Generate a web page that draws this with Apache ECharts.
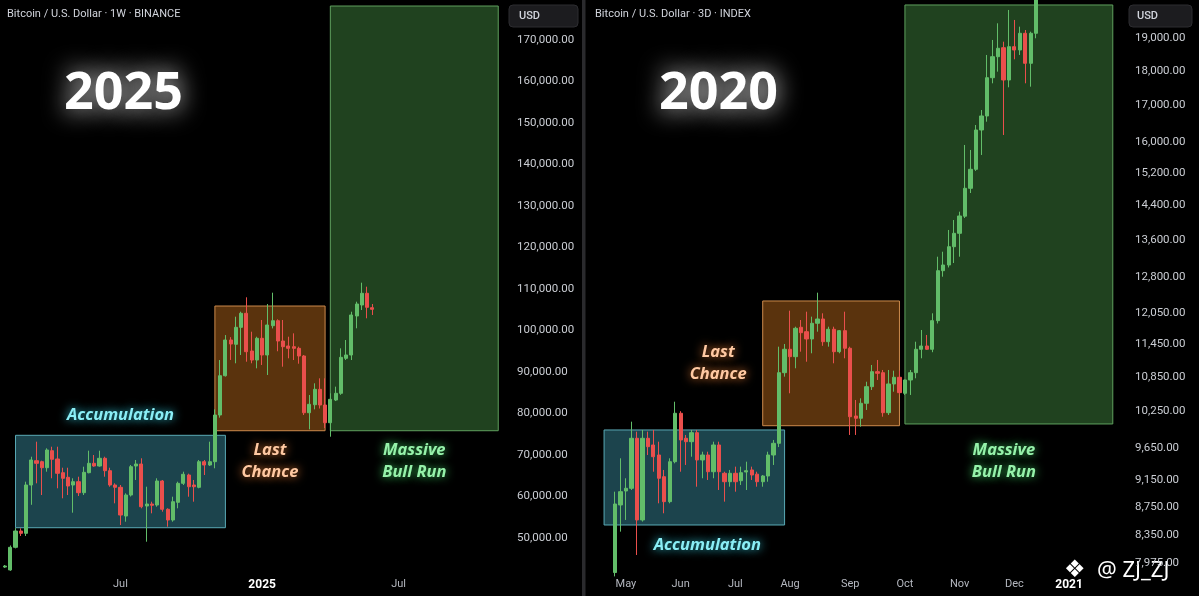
<!DOCTYPE html>
<html>
<head>
<meta charset="utf-8">
<script src="https://cdn.jsdelivr.net/npm/echarts@6.0.0/dist/echarts.min.js"></script>
<style>
html,body{margin:0;padding:0;background:#000;}
#chart{width:1199px;height:596px;}
</style>
</head>
<body>
<div id="chart"></div>
<script>
// ---------------- DATA ----------------
// BTC/USD weekly (Binance) — rows are [open, close, low, high], first bar week of 2024-01-29
const btc2025Weekly = [
  [43000,43250,42800,43500],[42300,47760,42100,48200],[47760,51690,47500,52400],[51690,51130,50480,52340],
  [51130,62770,50480,63570],[62770,68800,58000,69590],[68630,68000,63180,73210],[68390,66940,60360,68630],
  [66940,71210,65980,71620],[71040,68970,64390,72000],[69040,65590,61980,72000],[65740,64390,59570,66940],
  [64630,62530,60360,66940],[62770,63570,56100,64390],[63570,60920,60120,64770],[60920,65830,60360,67180],
  [65740,68000,65590,71040],[68000,67350,67180,70000],[67350,69210,67180,71040],[69210,66220,64770,69590],
  [66220,62770,62360,66940],[62770,62220,58360,63180],[62220,55540,53130,62770],[55300,60360,53930,60770],
  [60360,67180,60000,67590],[67350,67830,63980,68800],[67830,57540,57160,69210],[57710,58190,49110,62360],
  [58190,57880,55950,58750],[57950,63740,57540,64390],[63740,56920,56340,63980],[56920,54340,52730,57160],
  [54340,58750,53930,59950],[58600,63180,57160,63570],[63180,65350,62770,65980],[65180,62360,59950,65500],
  [62770,62360,58750,63980],[62220,68390,61980,68800],[68390,67590,65180,68800],[67590,68390,67350,73210],
  [68390,79640,66800,81000],[79640,89110,79000,92890],[89110,97710,88900,98900],[97710,96750,92900,98400],
  [96680,100770,92100,103330],[100770,104150,94100,104530],[104150,94890,92480,108000],[95060,92890,92100,99710],
  [92890,98120,90890,98500],[98120,94100,91690,102530],[94100,101330,89280,106390],[101160,102360,100500,109110],
  [102360,97470,95000,102700],[97470,96100,91280,102530],[96270,95710,93300,98500],[96100,95710,92890,99320],
  [95710,93860,92000,96100],[93860,80190,79640,94100],[80190,82220,76190,84460],[82120,85830,81000,87280],
  [85830,82050,81200,88480],[82050,77780,76500,88480],[77780,83420,74410,84870],[83250,84870,83000,86470],
  [84870,93540,84500,95710],[93300,94100,92890,97710],[94100,103740,92890,104530],[103500,106390,100530,106940],
  [106150,108970,104940,111520],[108970,105590,102940,110560],[105500,105110,103740,106390]
];
// BTC/USD 3-day (Index) — rows are [open, close, low, high], first bar 2020-04-27
const btc2020ThreeDay = [
  [7850,8792,7800,8973],[8778,8973,8399,9482],[8983,9023,8563,9174],[9023,9801,8998,10074],
  [9801,8563,8081,9909],[8563,9801,8540,9937],[9801,9666,9534,9909],[9693,9507,9274,9937],
  [9534,9174,8802,9746],[9198,8826,8658,9301],[8826,9429,8802,9482],[9429,10215,9404,10412],
  [10215,9774,9274,10250],[9801,9746,9378,9855],[9746,9892,9507,9937],[9892,9456,9047,9937],
  [9456,9534,9174,9586],[9534,9274,9148,9586],[9274,9693,9174,9746],[9693,9274,8998,9746],
  [9250,9122,8826,9274],[9122,9250,9047,9301],[9250,9122,8973,9352],[9137,9259,9073,9352],
  [9270,9290,8998,9429],[9301,9224,9148,9352],[9237,9122,9047,9274],[9122,9209,9047,9224],
  [9209,9534,9122,9586],[9534,9720,9378,9774],[9720,10924,9660,11404],[10924,11355,10852,11455],
  [11355,11217,10558,12103],[11217,11756,11004,11787],[11776,11671,11310,11918],[11690,11550,11124,12083],
  [11550,11854,11280,11984],[11854,11938,11690,12469],[11938,11498,11420,12051],[11498,11737,11404,11787],
  [11737,11310,11095,11787],[11310,11710,11280,11723],[11710,11374,11187,12083],[11374,10157,9855,11404],
  [10169,10131,9855,10442],[10131,10385,9991,10471],[10385,10674,10271,10762],[10674,10942,10616,11064],
  [10942,10913,10793,11156],[10924,10225,10157,10973],[10225,10722,10186,10973],[10722,10841,10586,10960],
  [10841,10569,10540,10960],[10558,10793,10529,10800],[10793,10924,10529,10973],[10924,11355,10823,11498],
  [11355,11417,11187,11723],[11417,11355,11342,11627],[11355,11905,11300,12051],[11905,12931,11850,13233],
  [12931,13053,12803,13343],[13053,13454,13000,13831],[13454,13755,13096,14061],[13755,14155,13233,14256],
  [14150,14818,14108,15918],[14818,15291,14703,15787],[15291,16318,15250,16453],[16318,16700,15657,16866],
  [16700,17791,16543,18472],[17791,18420,17627,18936],[18420,18678,17969,19466],[18696,17724,16183,18883],
  [17724,18727,17511,19899],[18727,18625,18341,19573],[18625,19147,18472,19357],[19147,18220,17627,19251],
  [18220,19147,17529,19197],[19147,21200,18989,21560]
];

// time axes: weekly from 2024-01-29 (96 slots); 3-day from 2020-04-15 (97 slots, data from 2020-04-27)
const leftStart = '2024-01-29', leftStepDays = 7, leftSlots = 96;
const rightStart = '2020-04-15', rightStepDays = 3, rightSlots = 97, rightLeadingEmpty = 4;

const leftXTickDates = ['2024-07-01', '2025-01-06', '2025-07-07'];
const leftXTickTexts = ['Jul', '2025', 'Jul'];
const rightXTickDates = ['2020-05-03','2020-06-02','2020-07-02','2020-08-01','2020-09-03','2020-10-03','2020-11-02','2020-12-02','2021-01-01'];
const rightXTickTexts = ['May','Jun','Jul','Aug','Sep','Oct','Nov','Dec','2021'];

const leftYTicks = [50000,60000,70000,80000,90000,100000,110000,120000,130000,140000,150000,160000,170000];
const rightYTicks = [7975,8350,8750,9150,9650,10250,10850,11450,12050,12800,13600,14400,15200,16000,17000,18000,19000];
const leftYRange = [41810, 179640];
const rightYRange = [7857, 20230];

// zones (boxes): slot index range and price range
const zoneNames = ['Accumulation', 'Last\nChance', 'Massive\nBull Run'];
const leftZoneStart = [2, 40, 62];
const leftZoneEnd = [42, 61, 94];
const leftZoneLow = [52480, 75850, 75850];
const leftZoneHigh = [74750, 105900, 178190];
const rightZoneStart = [2, 31, 57];
const rightZoneEnd = [35, 56, 95];
const rightZoneLow = [8492, 10007, 10036];
const rightZoneHigh = [9937, 12299, 20064];

const leftHeader = 'Bitcoin / U.S. Dollar \u00b7 1W \u00b7 BINANCE';
const rightHeader = 'Bitcoin / U.S. Dollar \u00b7 3D \u00b7 INDEX';
const leftYear = '2025';
const rightYear = '2020';

// ---------------- BUILD ----------------
function dateSeq(start, stepDays, count) {
  const out = [];
  const t0 = Date.parse(start + 'T00:00:00Z');
  for (let i = 0; i < count; i++) out.push(new Date(t0 + i * stepDays * 86400000).toISOString().slice(0, 10));
  return out;
}
const leftCats = dateSeq(leftStart, leftStepDays, leftSlots);
const rightCats = dateSeq(rightStart, rightStepDays, rightSlots);
const rightData = new Array(rightLeadingEmpty).fill('-').concat(btc2020ThreeDay);

const UP = '#62bd69', DOWN = '#ea4f4c';
const zoneStyles = [
  { fill: 'rgba(48,118,132,0.58)', border: '#5aaab6', text: '#8aeef6', glow: 'rgba(60,220,240,0.95)' },
  { fill: 'rgba(196,112,28,0.46)', border: '#cc8a4c', text: '#ffc9a2', glow: 'rgba(255,140,60,0.95)' },
  { fill: 'rgba(62,126,60,0.52)', border: '#5fa05e', text: '#96f2aa', glow: 'rgba(70,230,110,0.95)' }
];
const leftPlacements = [
  { position: 'top', distance: 9 },
  { position: 'bottom', distance: 8 },
  { position: 'bottom', distance: 8 }
];
const rightPlacements = [
  { position: 'bottom', distance: 9, offset: [13, 0] },
  { position: 'left', distance: 44, align: 'center' },
  { position: 'bottom', distance: 15, offset: [-5, 0] }
];

function buildZones(cats, s, e, lo, hi, placements) {
  return zoneNames.map(function (n, k) {
    return [
      {
        name: n, xAxis: cats[s[k]], yAxis: hi[k],
        itemStyle: { color: zoneStyles[k].fill, borderColor: zoneStyles[k].border, borderWidth: 1 },
        label: Object.assign({
          show: true, formatter: '{b}', color: zoneStyles[k].text,
          fontFamily: 'Open Sans', fontSize: 16.5, fontWeight: 'bold', fontStyle: 'italic',
          lineHeight: 22, textShadowColor: zoneStyles[k].glow, textShadowBlur: 10
        }, placements[k])
      },
      { xAxis: cats[e[k]], yAxis: lo[k] }
    ];
  });
}

function fmtPrice(v) {
  return Number(v).toLocaleString('en-US', { minimumFractionDigits: 2, maximumFractionDigits: 2 });
}
function xAxisFor(gridIndex, cats, tickDates, tickTexts) {
  return {
    type: 'category', gridIndex: gridIndex, data: cats, boundaryGap: true,
    axisLine: { show: false }, axisTick: { show: false }, splitLine: { show: false },
    axisLabel: {
      margin: 7, color: '#b4b7bf', fontSize: 11, fontFamily: 'Roboto',
      interval: function (idx, val) { return tickDates.indexOf(val) >= 0; },
      formatter: function (val) {
        const t = tickTexts[tickDates.indexOf(val)];
        if (t === undefined) return '';
        return /^\d{4}$/.test(t) ? '{y|' + t + '}' : t;
      },
      rich: { y: { color: '#ffffff', fontWeight: 'bold', fontSize: 12, fontFamily: 'Roboto' } }
    }
  };
}
function yAxisFor(gridIndex, type, range, ticks, margin) {
  return {
    type: type, gridIndex: gridIndex, position: 'right', min: range[0], max: range[1],
    scale: true,
    axisLine: { show: false }, axisTick: { show: false }, splitLine: { show: false },
    axisLabel: {
      customValues: ticks, margin: margin, color: '#cacdd3', fontSize: 11.5, fontFamily: 'Roboto',
      formatter: fmtPrice
    }
  };
}
function candleSeries(axisIndex, data, cats, zones, barW) {
  return {
    type: 'candlestick', xAxisIndex: axisIndex, yAxisIndex: axisIndex, data: data,
    barWidth: barW,
    itemStyle: { color: UP, color0: DOWN, borderColor: UP, borderColor0: DOWN, borderWidth: 1 },
    markArea: { silent: true, data: zones }
  };
}

const titleStyleYear = {
  color: '#ffffff', fontSize: 52, fontWeight: 'bold', fontFamily: 'Open Sans', lineHeight: 56,
  textShadowColor: 'rgba(255,255,255,0.95)', textShadowBlur: 24
};
const titleStyleHeader = { color: '#d1d4dc', fontSize: 11, fontWeight: 'normal', fontFamily: 'Roboto' };

const option = {
  backgroundColor: '#000000',
  animation: false,
  title: [
    { text: leftHeader, left: 7, top: 9, padding: 0, textStyle: titleStyleHeader },
    { text: rightHeader, left: 595, top: 9, padding: 0, textStyle: titleStyleHeader },
    { text: leftYear, left: 64, top: 66, padding: 0, textStyle: titleStyleYear },
    { text: rightYear, left: 659, top: 66, padding: 0, textStyle: titleStyleYear }
  ],
  grid: [
    { left: 2.4, top: 0, width: 96 * 5.247, height: 572 },
    { left: 590.4, top: 0, width: 97 * 5.47, height: 572 }
  ],
  xAxis: [
    xAxisFor(0, leftCats, leftXTickDates, leftXTickTexts),
    xAxisFor(1, rightCats, rightXTickDates, rightXTickTexts)
  ],
  yAxis: [
    yAxisFor(0, 'value', leftYRange, leftYTicks, 11),
    yAxisFor(1, 'log', rightYRange, rightYTicks, 14)
  ],
  series: [
    candleSeries(0, btc2025Weekly, leftCats,
      buildZones(leftCats, leftZoneStart, leftZoneEnd, leftZoneLow, leftZoneHigh, leftPlacements), 3.6),
    candleSeries(1, rightData, rightCats,
      buildZones(rightCats, rightZoneStart, rightZoneEnd, rightZoneLow, rightZoneHigh, rightPlacements), 3.8)
  ],
  graphic: [
    { type: 'rect', silent: true, shape: { x: 582, y: 0, width: 3.5, height: 596 }, style: { fill: '#2a2a2d' } },
    { type: 'rect', silent: true, shape: { x: 509, y: 5, width: 69, height: 22, r: 4 }, style: { fill: '#1c1c1f', stroke: '#2c2c30', lineWidth: 1 } },
    { type: 'text', silent: true, x: 519, y: 16, style: { text: 'USD', fill: '#d1d4dc', font: '500 11px Roboto', verticalAlign: 'middle' } },
    { type: 'rect', silent: true, shape: { x: 1129, y: 5, width: 63, height: 22, r: 4 }, style: { fill: '#1c1c1f', stroke: '#2c2c30', lineWidth: 1 } },
    { type: 'text', silent: true, x: 1137, y: 16, style: { text: 'USD', fill: '#d1d4dc', font: '500 11px Roboto', verticalAlign: 'middle' } },
    { type: 'text', silent: true, x: 1064, y: 571, style: { text: '\u2756', fill: '#ffffff', font: '24px "DejaVu Sans"', verticalAlign: 'middle' } },
    { type: 'text', silent: true, x: 1097, y: 571, style: { text: '@ ZJ_ZJ', fill: '#ffffff', font: '22px "Noto Sans"', verticalAlign: 'middle' } }
  ]
};

const chart = echarts.init(document.getElementById('chart'), null, { renderer: 'canvas' });
chart.setOption(option);
</script>
</body>
</html>
